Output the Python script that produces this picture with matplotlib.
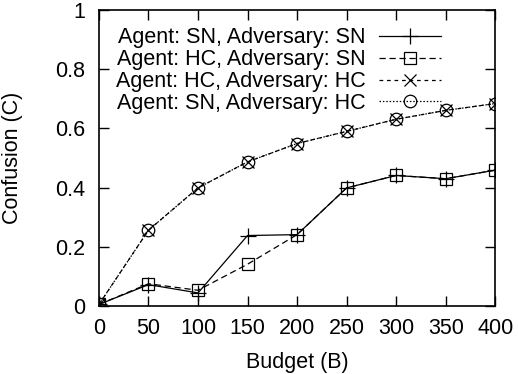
import matplotlib
matplotlib.use("Agg")
import matplotlib.pyplot as plt

plt.rcParams["font.family"] = ["Liberation Sans", "DejaVu Sans"]

budget = [0, 50, 100, 150, 200, 250, 300, 350, 400]
sn_sn = [0.005, 0.072, 0.044, 0.238, 0.241, 0.399, 0.441, 0.430, 0.459]
hc_sn = [0.005, 0.075, 0.053, 0.141, 0.241, 0.399, 0.441, 0.430, 0.459]
hc_hc = [0.005, 0.256, 0.399, 0.487, 0.549, 0.590, 0.631, 0.661, 0.684]
sn_hc = [0.005, 0.256, 0.399, 0.487, 0.549, 0.590, 0.631, 0.661, 0.684]

labels = [
    "Agent: SN, Adversary: SN",
    "Agent: HC, Adversary: SN",
    "Agent: HC, Adversary: HC",
    "Agent: SN, Adversary: HC",
]

FS = 15.5

fig = plt.figure(figsize=(5.18, 3.74), dpi=100)
ax = fig.add_axes([0.191, 0.182, 0.765, 0.791])

lw = 0.9
ax.plot(budget, sn_sn, color="black", lw=lw, ls="-", marker="+", ms=11,
        mew=0.9, label=labels[0])
ax.plot(budget, hc_sn, color="black", lw=lw, ls=(0, (5, 3)), marker="s", ms=9,
        mew=0.9, mfc="none", label=labels[1])
ax.plot(budget, hc_hc, color="black", lw=lw, ls=(0, (3, 3)), marker="x", ms=8,
        mew=0.9, label=labels[2])
ax.plot(budget, sn_hc, color="black", lw=lw, ls=(0, (1.2, 1.5)), marker="o", ms=9,
        mew=0.9, mfc="none", label=labels[3])

ax.set_xlim(0, 400)
ax.set_ylim(0, 1)
ax.set_xticks(budget)
ax.set_yticks([0, 0.2, 0.4, 0.6, 0.8, 1.0])
ax.set_yticklabels(["0", "0.2", "0.4", "0.6", "0.8", "1"])
ax.tick_params(direction="in", length=7, width=1, top=True, right=True,
               labelsize=FS)
ax.tick_params(axis="x", pad=9)
ax.tick_params(axis="y", pad=10)
for s in ax.spines.values():
    s.set_linewidth(1.2)

ax.set_xlabel("Budget (B)", fontsize=FS, labelpad=9)
ax.set_ylabel("Confusion (C)", fontsize=FS, labelpad=23)

leg = ax.legend(loc="upper left", bbox_to_anchor=(0.0, 1.0), frameon=False,
                markerfirst=False, fontsize=FS, handlelength=2.9,
                handletextpad=0.6, labelspacing=0.04, borderaxespad=0.2,
                borderpad=0.6)
for t in leg.get_texts():
    t.set_ha("right")
leg._legend_box.align = "right"

fig.savefig("out.png", dpi=100)
